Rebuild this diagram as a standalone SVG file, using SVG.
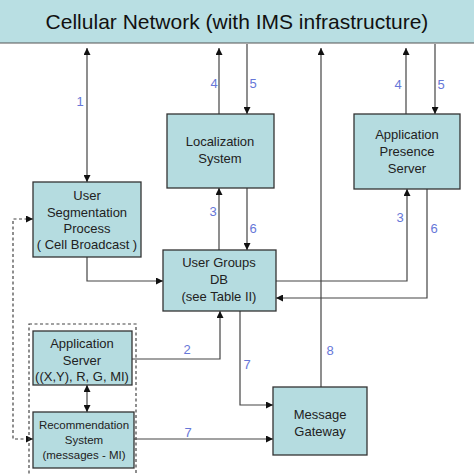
<svg xmlns="http://www.w3.org/2000/svg" width="474" height="474" viewBox="0 0 474 474">
<defs>
<marker id="ah" viewBox="0 0 10 10" refX="10" refY="5" markerWidth="7" markerHeight="7" markerUnits="userSpaceOnUse" orient="auto-start-reverse">
<path d="M0,0 L10,5 L0,10 z" fill="#111"/>
</marker>
<style>
.box{fill:#b5dce0;stroke:#333;stroke-width:1.3}
.t{font-family:"Liberation Sans",Arial,sans-serif;font-size:13px;fill:#222;text-anchor:middle}
.s{font-size:11.5px}
.n{font-family:"Liberation Sans",Arial,sans-serif;font-size:13px;fill:#6677d8;text-anchor:middle}
.c{fill:none;stroke:#444;stroke-width:1.2}
.d{fill:none;stroke:#444;stroke-width:1.2;stroke-dasharray:3,2.5}
</style>
</defs>
<g id="cellular-network">
<rect x="-1" y="-1" width="476" height="44" fill="#b9dfe3" stroke="#555" stroke-width="1"/>
<text x="237" y="29" style="font-family:'Liberation Sans',Arial,sans-serif;font-size:21px;fill:#111;text-anchor:middle">Cellular Network (with IMS infrastructure)</text>
</g>
<g id="connectors">
<path class="c" d="M87,48 V182" marker-start="url(#ah)" marker-end="url(#ah)"/>
<path class="c" d="M219,114 V48" marker-end="url(#ah)"/>
<path class="c" d="M247,44 V114" marker-end="url(#ah)"/>
<path class="c" d="M406,114 V48" marker-end="url(#ah)"/>
<path class="c" d="M435,44 V114" stroke-width="1.8" marker-end="url(#ah)"/>
<path class="c" d="M321,387 V48" marker-end="url(#ah)"/>
<path class="c" d="M219,250 V188" marker-end="url(#ah)"/>
<path class="c" d="M247,188 V250" marker-end="url(#ah)"/>
<path class="c" d="M87,257 V281 H163" marker-end="url(#ah)"/>
<path class="c" d="M276,281 H407 V189" marker-end="url(#ah)"/>
<path class="c" d="M427,189 V298 H276" marker-end="url(#ah)"/>
<path class="c" d="M132,359 H220 V311" marker-end="url(#ah)"/>
<path class="c" d="M87,385 V412" marker-start="url(#ah)" marker-end="url(#ah)"/>
<path class="d" d="M33,219 H13 V439 H33" marker-start="url(#ah)" marker-end="url(#ah)"/>
<path class="c" d="M134,439 H273" marker-end="url(#ah)"/>
<path class="c" d="M240,311 V405 H273" marker-end="url(#ah)"/>
<rect class="d" x="29" y="324" width="107" height="152"/>
<text class="n" x="80" y="106">1</text>
<text class="n" x="214" y="88">4</text>
<text class="n" x="253" y="88">5</text>
<text class="n" x="398" y="89">4</text>
<text class="n" x="441" y="89">5</text>
<text class="n" x="213" y="216">3</text>
<text class="n" x="253" y="233">6</text>
<text class="n" x="400" y="222">3</text>
<text class="n" x="434" y="233">6</text>
<text class="n" x="187" y="354">2</text>
<text class="n" x="247" y="369">7</text>
<text class="n" x="330" y="355">8</text>
<text class="n" x="188" y="437">7</text>
</g>
<g id="localization-system">
<rect class="box" x="167" y="114" width="107" height="74"/>
<text class="t" x="220" y="146">Localization</text>
<text class="t" x="220" y="163">System</text>
</g>
<g id="application-presence-server">
<rect class="box" x="354" y="114" width="106" height="75"/>
<text class="t" x="407" y="139">Application</text>
<text class="t" x="407" y="156">Presence</text>
<text class="t" x="407" y="173">Server</text>
</g>
<g id="user-segmentation-process">
<rect class="box" x="33" y="182" width="108" height="75"/>
<text class="t" x="87" y="200">User</text>
<text class="t" x="87" y="217">Segmentation</text>
<text class="t" x="87" y="233">Process</text>
<text class="t" x="87" y="249">( Cell Broadcast )</text>
</g>
<g id="user-groups-db">
<rect class="box" x="163" y="250" width="113" height="61"/>
<text class="t" x="219" y="267">User Groups</text>
<text class="t" x="219" y="284">DB</text>
<text class="t" x="219" y="301">(see Table II)</text>
</g>
<g id="application-server">
<rect class="box" x="33" y="331" width="99" height="54"/>
<text class="t" x="82" y="348">Application</text>
<text class="t" x="82" y="365">Server</text>
<text class="t" x="82" y="381">((X,Y), R, G, MI)</text>
</g>
<g id="recommendation-system">
<rect class="box" x="33" y="412" width="101" height="56"/>
<text class="t s" x="84" y="429">Recommendation</text>
<text class="t s" x="84" y="444">System</text>
<text class="t s" x="84" y="459">(messages - MI)</text>
</g>
<g id="message-gateway">
<rect class="box" x="273" y="387" width="94" height="68"/>
<text class="t" x="320" y="419">Message</text>
<text class="t" x="320" y="436">Gateway</text>
</g>
</svg>
